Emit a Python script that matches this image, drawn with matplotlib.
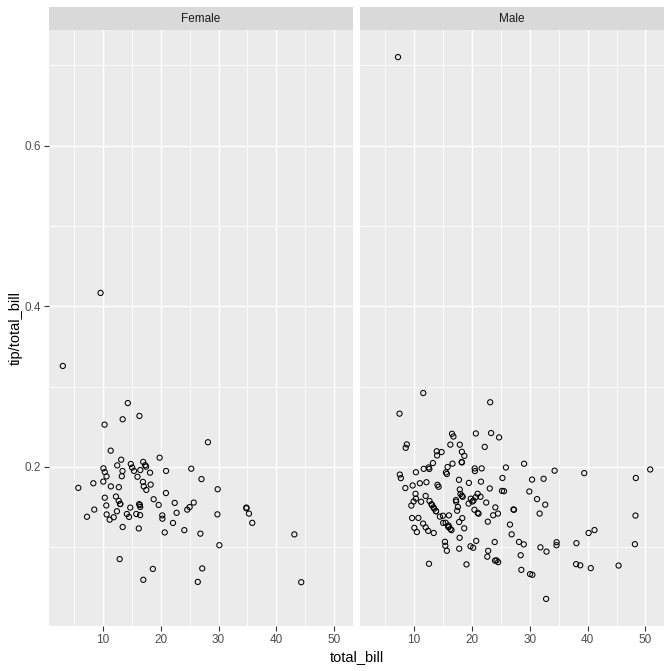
import matplotlib
matplotlib.use("Agg")
import matplotlib.pyplot as plt
import numpy as np

plt.rcParams['font.family'] = ['Liberation Sans', 'DejaVu Sans']

# tips dataset, split by sex
female_bill = [16.99, 24.59, 35.26, 14.83, 10.33, 16.97, 20.29, 15.77, 19.65, 15.06, 20.69, 16.93,
               10.29, 34.81, 26.41, 16.45, 3.07, 17.07, 26.86, 25.28, 14.73, 10.07, 34.83, 5.75,
               16.32, 22.75, 11.35, 15.38, 44.3, 22.42, 20.92, 14.31, 7.25, 25.71, 17.31, 10.65,
               12.43, 24.08, 13.42, 12.48, 29.8, 14.52, 11.38, 20.27, 11.17, 12.26, 18.26, 8.51,
               10.33, 14.15, 13.16, 17.47, 27.05, 16.43, 8.35, 18.64, 11.87, 29.85, 25.0, 13.39,
               16.21, 17.51, 10.59, 10.63, 9.6, 20.9, 18.15, 19.81, 43.11, 13.0, 12.74, 13.0,
               16.4, 16.47, 12.76, 13.27, 28.17, 12.9, 30.14, 13.42, 15.98, 16.27, 10.09, 22.12,
               35.83, 27.18, 18.78]
female_tip = [1.01, 3.61, 5.0, 3.02, 1.67, 3.5, 2.75, 2.23, 3.0, 3.0, 2.45, 3.07,
              2.6, 5.2, 1.5, 2.47, 1.0, 3.0, 3.14, 5.0, 2.2, 1.83, 5.17, 1.0,
              4.3, 3.25, 2.5, 3.0, 2.5, 3.48, 4.08, 4.0, 1.0, 4.0, 3.5, 1.5,
              1.8, 2.92, 1.68, 2.52, 4.2, 2.0, 2.0, 2.83, 1.5, 2.0, 3.25, 1.25,
              2.0, 2.0, 2.75, 3.5, 5.0, 2.3, 1.5, 1.36, 1.63, 5.14, 3.75, 2.61,
              2.0, 3.0, 1.61, 2.0, 4.0, 3.5, 3.5, 4.19, 5.0, 2.0, 2.01, 2.0,
              2.5, 3.23, 2.23, 2.5, 6.5, 1.1, 3.09, 3.48, 3.0, 2.5, 2.0, 2.88,
              4.67, 2.0, 3.0]
male_bill = [10.34, 21.01, 23.68, 25.29, 8.77, 26.88, 15.04, 14.78, 10.27, 15.42, 18.43, 21.58,
             16.29, 20.65, 17.92, 39.42, 19.82, 17.81, 13.37, 12.69, 21.7, 9.55, 18.35, 17.78,
             24.06, 16.31, 18.69, 31.27, 16.04, 17.46, 13.94, 9.68, 30.4, 18.29, 22.23, 32.4,
             28.55, 18.04, 12.54, 9.94, 25.56, 19.49, 38.01, 11.24, 48.27, 20.29, 13.81, 11.02,
             18.29, 17.59, 20.08, 20.23, 15.01, 12.02, 10.51, 17.92, 27.2, 22.76, 17.29, 19.44,
             16.66, 32.68, 15.98, 13.03, 18.28, 24.71, 21.16, 28.97, 22.49, 40.17, 27.28, 12.03,
             21.01, 12.46, 15.36, 20.49, 25.21, 18.24, 14.0, 38.07, 23.95, 29.93, 11.69, 14.26,
             15.95, 8.52, 22.82, 19.08, 16.0, 34.3, 41.19, 9.78, 7.51, 14.07, 13.13, 17.26,
             24.55, 19.77, 48.17, 16.49, 21.5, 12.66, 13.81, 24.52, 20.76, 31.71, 50.81, 15.81,
             7.25, 31.85, 16.82, 32.9, 17.89, 14.48, 34.63, 34.65, 23.33, 45.35, 23.17, 40.55,
             20.69, 30.46, 23.1, 15.69, 28.44, 15.48, 16.58, 7.56, 10.34, 13.51, 18.71, 20.53,
             26.59, 38.73, 24.27, 30.06, 25.89, 48.33, 28.15, 11.59, 7.74, 12.16, 8.58, 13.42,
             20.45, 13.28, 24.01, 15.69, 11.61, 10.77, 15.53, 10.07, 12.6, 32.83, 29.03, 22.67,
             17.82]
male_tip = [1.66, 3.5, 3.31, 4.71, 2.0, 3.12, 1.96, 3.23, 1.71, 1.57, 3.0, 3.92,
            3.71, 3.35, 4.08, 7.58, 3.18, 2.34, 2.0, 2.0, 4.3, 1.45, 2.5, 3.27,
            3.6, 2.0, 2.31, 5.0, 2.24, 2.54, 3.06, 1.32, 5.6, 3.0, 5.0, 6.0,
            2.05, 3.0, 2.5, 1.56, 4.34, 3.51, 3.0, 1.76, 6.73, 3.21, 2.0, 1.98,
            3.76, 2.64, 3.15, 2.01, 2.09, 1.97, 1.25, 3.08, 4.0, 3.0, 2.71, 3.0,
            3.4, 5.0, 2.03, 2.0, 4.0, 5.85, 3.0, 3.0, 3.5, 4.73, 4.0, 1.5,
            3.0, 1.5, 1.64, 4.06, 4.29, 3.76, 3.0, 4.0, 2.55, 5.07, 2.31, 2.5,
            2.0, 1.48, 2.18, 1.5, 2.0, 6.7, 5.0, 1.73, 2.0, 2.5, 2.0, 2.74,
            2.0, 2.0, 5.0, 2.0, 3.5, 2.5, 2.0, 3.48, 2.24, 4.5, 10.0, 3.16,
            5.15, 3.18, 4.0, 3.11, 2.0, 2.0, 3.55, 3.68, 5.65, 3.5, 6.5, 3.0,
            5.0, 2.0, 4.0, 1.5, 2.56, 2.02, 4.0, 1.44, 2.0, 2.0, 4.0, 4.0,
            3.41, 3.0, 2.03, 2.0, 5.16, 9.0, 3.0, 1.5, 1.44, 2.2, 1.92, 1.58,
            3.0, 2.72, 2.0, 3.0, 3.39, 1.47, 3.0, 1.25, 1.0, 1.17, 5.92, 2.0,
            1.75]

panels = ["Female", "Male"]
x_ticks = [10, 20, 30, 40, 50]
x_minor = [5, 15, 25, 35, 45]
y_ticks = [0.2, 0.4, 0.6]
y_minor = [0.1, 0.3, 0.5, 0.7]

data = {
    "Female": (np.array(female_bill), np.array(female_tip) / np.array(female_bill)),
    "Male": (np.array(male_bill), np.array(male_tip) / np.array(male_bill)),
}

allx = np.concatenate([data[p][0] for p in panels])
ally = np.concatenate([data[p][1] for p in panels])
def expand(v):
    lo, hi = v.min(), v.max()
    d = (hi - lo) * 0.05
    return lo - d, hi + d
xlim = expand(allx)
ylim = expand(ally)

W, H = 672, 671
fig = plt.figure(figsize=(W / 100, H / 100), dpi=100)
fig.patch.set_facecolor("white")

panel_lr = [(49, 352.7), (360, 664)]
top, bottom = 30, 626
strip_top = 7

for i, (p, (l, r)) in enumerate(zip(panels, panel_lr)):
    ax = fig.add_axes([l / W, 1 - bottom / H, (r - l) / W, (bottom - top) / H])
    ax.set_facecolor("#EBEBEB")
    for s in ax.spines.values():
        s.set_visible(False)
    ax.set_xlim(*xlim)
    ax.set_ylim(*ylim)
    ax.set_xticks(x_ticks)
    ax.set_xticks(x_minor, minor=True)
    ax.set_yticks(y_ticks)
    ax.set_yticks(y_minor, minor=True)
    ax.grid(True, which="major", color="white", linewidth=1.05)
    ax.grid(True, which="minor", color="white", linewidth=0.55)
    ax.set_axisbelow(True)
    ax.tick_params(which="major", length=3.6, width=0.8, color="#333333",
                   labelsize=8.5, labelcolor="#4D4D4D", pad=2)
    ax.tick_params(which="minor", length=0)
    ax.set_xticklabels([str(t) for t in x_ticks])
    if i == 0:
        ax.set_yticklabels([f"{t:.1f}" for t in y_ticks])
    else:
        ax.tick_params(axis="y", which="major", length=0, labelleft=False)
    x, y = data[p]
    ax.scatter(x, y, s=14, facecolors="none", edgecolors="black", linewidths=0.75, zorder=3)

    sax = fig.add_axes([l / W, 1 - top / H, (r - l) / W, (top - strip_top) / H])
    sax.set_facecolor("#D9D9D9")
    sax.set_xticks([]); sax.set_yticks([])
    for s in sax.spines.values():
        s.set_visible(False)
    sax.text(0.5, 0.5, p, ha="center", va="center", fontsize=8.5, color="#1A1A1A",
             transform=sax.transAxes)

fig.text((49 + 664) / 2 / W, 1 - 657 / H, "total_bill", ha="center", va="center",
         fontsize=10.5, color="black")
fig.text(16 / W, 1 - ((top + bottom) / 2) / H, "tip/total_bill", ha="center", va="center",
         rotation=90, fontsize=10.5, color="black")

fig.savefig("out.png", dpi=100)
